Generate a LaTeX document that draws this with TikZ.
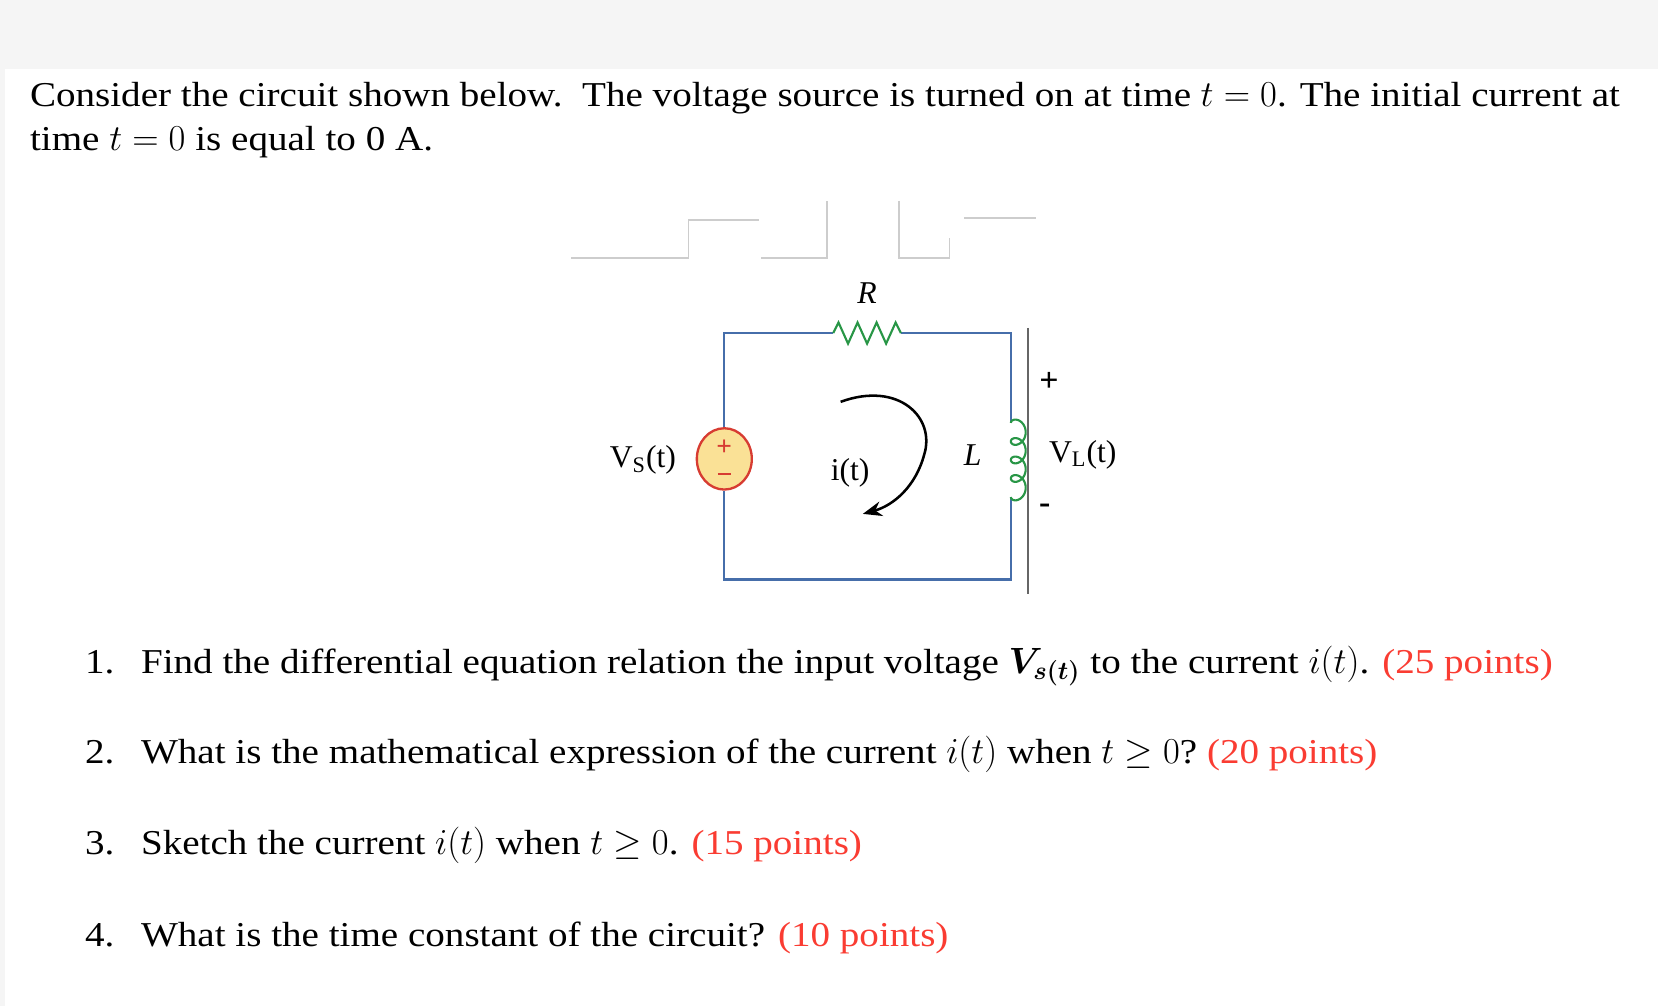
\documentclass[tikz,border=0pt]{standalone}
\usepackage{amsmath}
\usepackage{fontspec}
\setmainfont{Liberation Serif}
\newfontfamily\widefont[FakeStretch=1.12]{Liberation Serif}
\usetikzlibrary{arrows.meta,shapes.geometric}
\definecolor{wire}{RGB}{70,110,170}
\definecolor{resg}{RGB}{40,150,70}
\definecolor{qred}{RGB}{250,60,50}
\definecolor{srcfill}{RGB}{250,225,150}
\definecolor{srcred}{RGB}{215,60,50}
\definecolor{ghost}{RGB}{205,205,205}
\tikzset{
  txt/.style={anchor=base west,inner sep=0pt,font=\widefont\fontsize{16.5}{19}\selectfont},
  lab/.style={inner sep=0pt,font=\fontsize{15}{18}\selectfont},
  wirel/.style={draw=wire,line width=1.1pt},
  ghostl/.style={draw=ghost,line width=0.8pt}
}
\begin{document}
\begin{tikzpicture}[x=0.5pt,y=-0.5pt]
\useasboundingbox (0,0) rectangle (1568,951);
\fill[black!4] (0,0) rectangle (1568,951);
\fill[white] (5,65) rectangle (1568,951);
% text
\node[txt] (l1) at (28,101) {Consider the circuit shown below.\ \ The voltage source is turned on at time $t=0$. The initial current at};
\node[txt] (l2) at (28,142) {time $t=0$ is equal to 0 A.};
% ghost lines
\draw[ghostl] (540,244) -- (651,244) -- (651,208) -- (718,208);
\draw[ghostl] (720,244) -- (782,244) -- (782,190);
\draw[ghostl] (850,190) -- (850,244) -- (898,244) -- (898,225);
\draw[ghostl] (912,206) -- (980,206);
% circuit
\coordinate (tl) at (685,315); \coordinate (tr) at (956,315);
\coordinate (bl) at (685,548); \coordinate (br) at (956,548);
\coordinate (ra) at (788,315); \coordinate (rb) at (852,315);
\coordinate (la) at (956,400); \coordinate (lb) at (956,470);
\node[draw=srcred,fill=srcfill,ellipse,minimum width=26pt,minimum height=29pt,line width=1.1pt,inner sep=0pt] (vs) at (685,434) {};
\node[text=srcred,font=\fontsize{13}{13}\selectfont\bfseries] (pl) at (685,423) {+};
\draw[srcred,line width=1pt] (679,448) -- (691,448);
\draw[wirel] (vs.north) -- (tl) -- (ra);
\draw[wirel] (rb) -- (tr) -- (la);
\draw[wirel] (lb) -- (br) -- (bl) -- (vs.south);
\draw[resg,line width=1pt] (ra) -- (793,305) -- (802,325) -- (811,305) -- (820,325) -- (829,305) -- (838,325) -- (847,305) -- (rb);
\draw[resg,line width=1pt,domain=0:25.13,samples=240,smooth,variable=\t] plot ({956+7*(1-cos(\t r))},{400+2.785*\t-7*sin(\t r)});
\draw[black!60,line width=0.7pt] (972,310) -- (972,562);
\node[lab,font=\fontsize{15}{18}\selectfont\itshape] (R) at (820,277) {R};
\node[lab,font=\fontsize{15}{18}\selectfont\itshape] (L) at (920,430) {L};
\node[lab] (vsl) at (608,435) {V$_{\text{S}}$(t)};
\node[lab] (vll) at (1024,430) {V$_{\text{L}}$(t)};
\node[lab] (il) at (804,447) {i(t)};
\node[lab,font=\fontsize{16}{18}\selectfont\bfseries] (plus) at (992,361) {+};
\node[lab,font=\fontsize{16}{18}\selectfont\bfseries] (minus) at (988,481) {-};
\draw[line width=1.2pt,-{Stealth[length=9pt,width=7pt]}] (795,380) .. controls (850,360) and (885,395) .. (874,430) .. controls (866,460) and (845,478) .. (816,486);
% questions
\node[txt] (n1) at (80,637) {1.};
\node[txt] (q1) at (133,637) {Find the differential equation relation the input voltage $\boldsymbol{V_{s(t)}}$ to the current $i(t)$. \textcolor{qred}{(25 points)}};
\node[txt] (n2) at (80,722) {2.};
\node[txt] (q2) at (133,722) {What is the mathematical expression of the current $i(t)$ when $t\geq 0$?\ \textcolor{qred}{(20 points)}};
\node[txt] (n3) at (80,808) {3.};
\node[txt] (q3) at (133,808) {Sketch the current $i(t)$ when $t\geq0$. \textcolor{qred}{(15 points)}};
\node[txt] (n4) at (80,895) {4.};
\node[txt] (q4) at (133,895) {What is the time constant of the circuit? \textcolor{qred}{(10 points)}};
\end{tikzpicture}
\end{document}
